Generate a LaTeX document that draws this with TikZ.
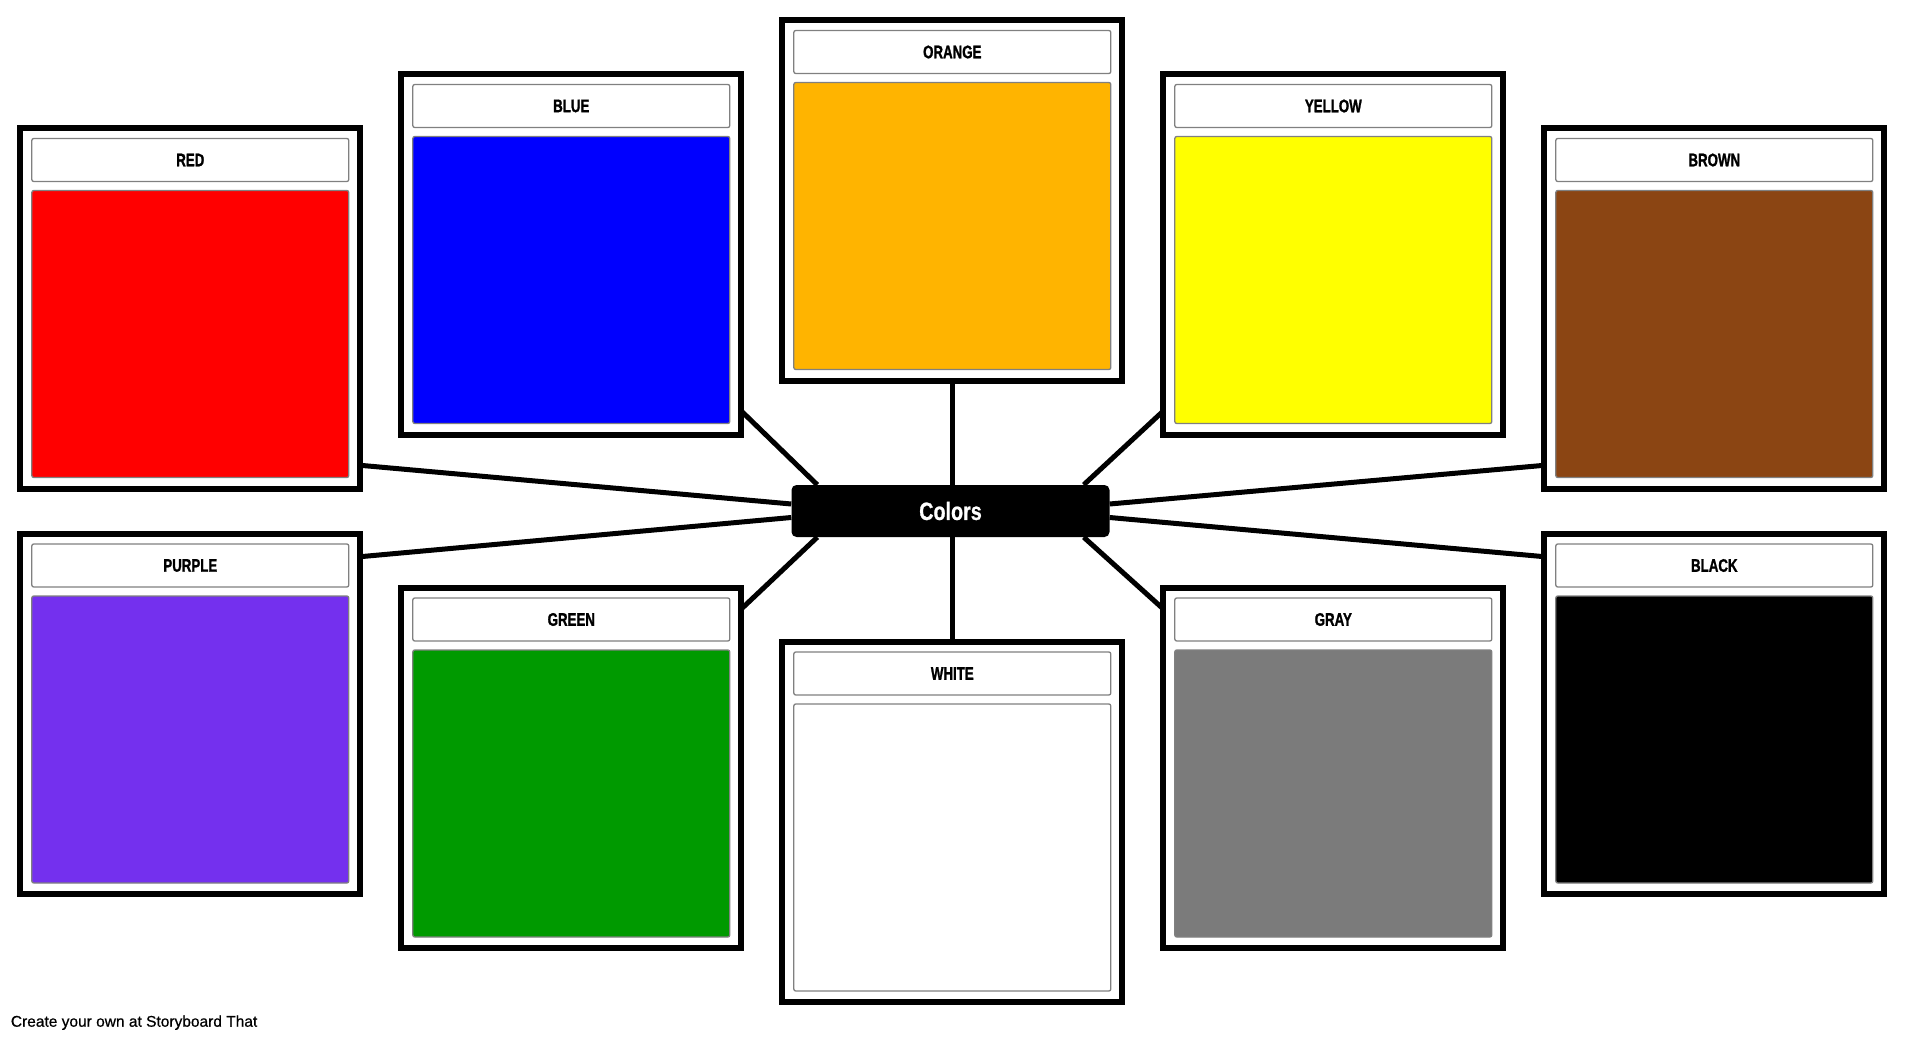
\documentclass[tikz,border=0pt]{standalone}
\usepackage{fontspec}
\setmainfont{Liberation Sans}
\newfontfamily\labfont[FakeStretch=0.73,BoldFeatures={FakeBold=1.2}]{Liberation Sans}
\newfontfamily\hubfont[FakeStretch=0.79,BoldFeatures={FakeBold=0.8}]{Liberation Sans}
\newfontfamily\footfont[FakeBold=0.6]{Liberation Sans}
\usetikzlibrary{calc}
\definecolor{boxgray}{HTML}{808080}
\definecolor{cred}{HTML}{FF0000}
\definecolor{cblue}{HTML}{0000FF}
\definecolor{corange}{HTML}{FFB400}
\definecolor{cyellow}{HTML}{FFFF00}
\definecolor{cbrown}{HTML}{8B4513}
\definecolor{cpurple}{HTML}{7430EE}
\definecolor{cgreen}{HTML}{009A00}
\definecolor{cgray}{HTML}{7B7B7B}
\definecolor{cwhite}{HTML}{FFFFFF}
\definecolor{cblack}{HTML}{000000}
\newcommand\colorcard[5]{%
  \node[cardframe] (#1) at (#2+173,#3+183) {};
  \node[cardlabel] (#1-lab) at (#2+173,#3+34.5) {#5};
  \node[swatch, fill=#4] (#1-sw) at (#2+173,#3+208.5) {};
}
\tikzset{
  cardframe/.style={draw=black, line width=6pt, fill=white, minimum width=340pt, minimum height=360pt, inner sep=0pt, outer sep=0pt},
  cardlabel/.style={draw=boxgray, line width=1.3pt, rounded corners=2pt, fill=white, minimum width=317pt, minimum height=43pt, inner sep=0pt, font=\labfont\bfseries\fontsize{18.2}{20}\selectfont},
  swatch/.style={draw=boxgray, line width=1.3pt, rounded corners=2pt, minimum width=317pt, minimum height=287pt, inner sep=0pt},
  hubbox/.style={fill=black, rounded corners=5pt, minimum width=318pt, minimum height=52pt, inner sep=0pt, text=white, font=\hubfont\bfseries\fontsize{25}{28}\selectfont},
  conn/.style={line width=5pt, draw=black},
  footer/.style={anchor=base west, inner sep=0pt, font=\footfont\fontsize{15.5}{18}\selectfont}
}
\begin{document}
\begin{tikzpicture}[x=1pt,y=-1pt]
\useasboundingbox[fill=white] (0,0) rectangle (1905,1040);
% top row
\colorcard{red}{17.3}{125.5}{cred}{RED}
\colorcard{blue}{398.3}{71.5}{cblue}{BLUE}
\colorcard{orange}{779.3}{17.5}{corange}{ORANGE}
\colorcard{yellow}{1160.3}{71.5}{cyellow}{YELLOW}
\colorcard{brown}{1541.3}{125.5}{cbrown}{BROWN}
% bottom row
\colorcard{purple}{17.3}{531}{cpurple}{PURPLE}
\colorcard{green}{398.3}{585}{cgreen}{GREEN}
\colorcard{white}{779.3}{639}{cwhite}{WHITE}
\colorcard{gray}{1160.3}{585}{cgray}{GRAY}
\colorcard{blk}{1541.3}{531}{cblack}{BLACK}
% hub
\node[hubbox] (hub) at (950.5,511) {Colors};
% connectors
\draw[conn] (orange.south) -- (orange.south |- hub.north);
\draw[conn] (white.north) -- (white.north |- hub.south);
\draw[conn] (red.east |- 0,465.3) -- (hub.west |- 0,504);
\draw[conn] (purple.east |- 0,556.7) -- (hub.west |- 0,517.5);
\draw[conn] (brown.west |- 0,465.3) -- (hub.east |- 0,504);
\draw[conn] (blk.west |- 0,556.7) -- (hub.east |- 0,517.5);
\draw[conn] (blue.east |- 0,411) -- ($(hub.north west)+(26,0)$);
\draw[conn] (green.east |- 0,609) -- ($(hub.south west)+(26,0)$);
\draw[conn] (yellow.west |- 0,411) -- ($(hub.north east)+(-26,0)$);
\draw[conn] (gray.west |- 0,609) -- ($(hub.south east)+(-26,0)$);
% footer
\node[footer] (credit) at (10.7,1026.7) {Create your own at Storyboard That};
\end{tikzpicture}
\end{document}
